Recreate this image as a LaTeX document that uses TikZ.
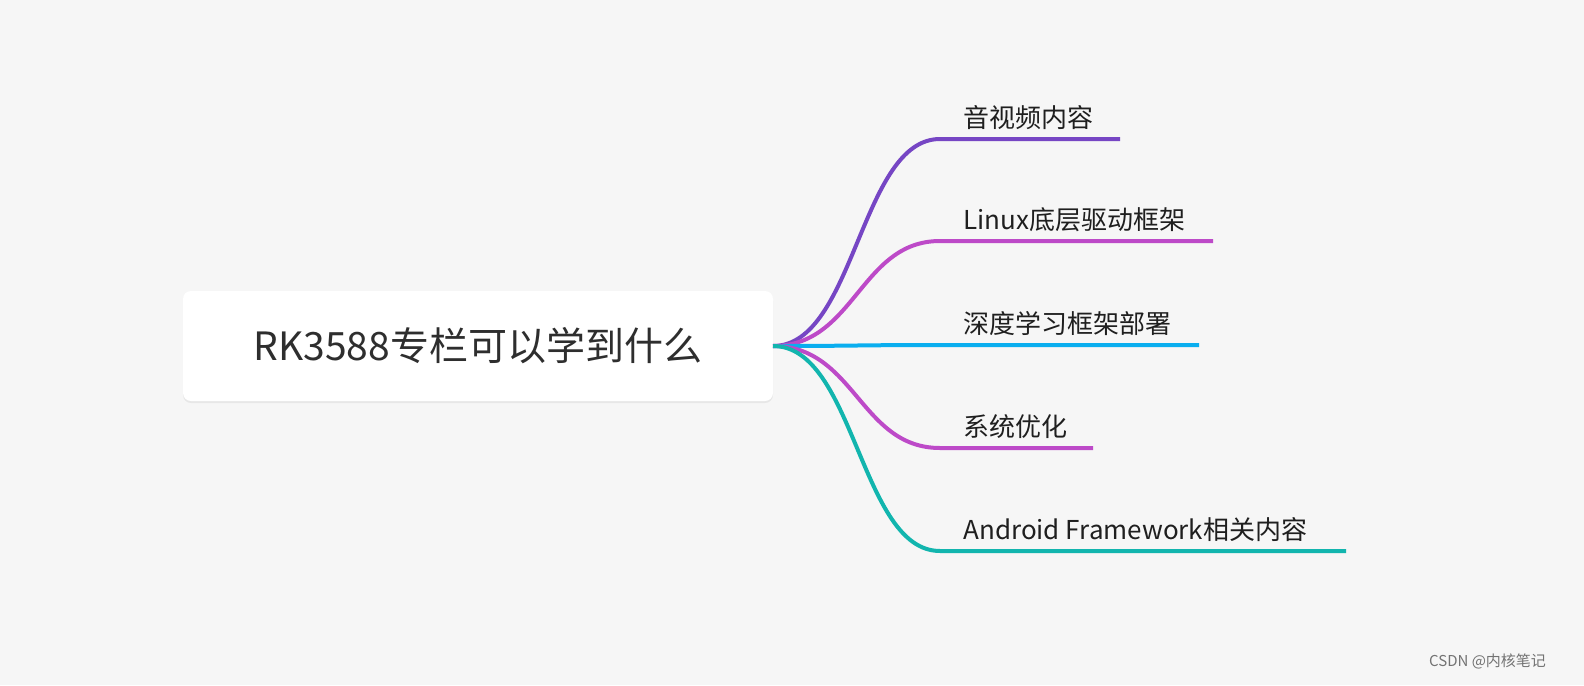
\documentclass[tikz,border=0pt]{standalone}
\usepackage{fontspec}
\setmainfont{Noto Sans CJK SC}
\usetikzlibrary{shadows}
\definecolor{bg}{HTML}{F6F6F6}
\definecolor{cA}{HTML}{7646C4}
\definecolor{cB}{HTML}{BD4AC8}
\definecolor{cC}{HTML}{0AAEEF}
\definecolor{cD}{HTML}{12B5AE}
\begin{document}
\begin{tikzpicture}[x=0.5pt,y=-0.5pt,
  branch/.style={line width=2pt},
  lbl/.style={anchor=west,font=\fontsize{13}{15}\selectfont,text=black!88,inner sep=0pt}]
\useasboundingbox (0,0) rectangle (1584,685);
\fill[bg] (0,0) rectangle (1584,685);
\node[fill=white,rounded corners=4pt,minimum width=295pt,minimum height=55pt,
  drop shadow={opacity=0.12,shadow xshift=0pt,shadow yshift=-1pt},
  font=\fontsize{19.5}{22}\selectfont,text=black!82] (root) at (478,346) {RK3588专栏可以学到什么};
\coordinate (o) at (773,346);
\foreach \y/\e/\c/\t/\n in {139/1120/cA/音视频内容/a, 241/1213/cB/Linux底层驱动框架/b, 345/1199/cC/深度学习框架部署/c, 448/1093/cB/系统优化/d, 551/1346/cD/Android Framework相关内容/e}{
  \coordinate (s\n) at (940,\y);
  \coordinate (t\n) at (\e,\y);
  \draw[branch,\c] (o) .. controls (855,346) and (860,\y) .. (s\n) -- (t\n);
  \node[lbl] (l\n) at (963,\y-21) {\t};
}
\node[anchor=east,font=\fontsize{7.5}{9}\selectfont,text=black!55] (wm) at (1553,661) {CSDN @内核笔记};
\end{tikzpicture}
\end{document}
